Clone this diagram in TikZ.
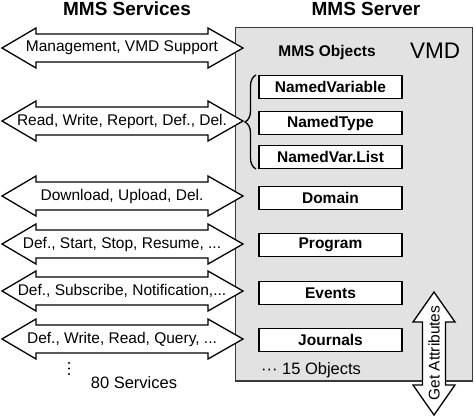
\documentclass[tikz,border=0pt]{standalone}
\usepackage{fontspec}
\setmainfont{Liberation Sans}
\usetikzlibrary{decorations.pathreplacing}
\definecolor{boxgray}{HTML}{E2E2E2}
\definecolor{edgegray}{HTML}{3A3A3A}
\tikzset{
  lbl/.style={font=\fontsize{15.5}{18}\selectfont, inner sep=0pt},
  title/.style={font=\fontsize{19}{22}\selectfont\bfseries, inner sep=0pt},
  objbox/.style={draw, line width=1.8pt, fill=white, minimum width=143pt, minimum height=23pt, inner sep=0pt, font=\fontsize{15.5}{18}\selectfont\bfseries},
  arrowshape/.style={draw, line width=1.3pt, fill=white, line join=miter},
}
\begin{document}
\begin{tikzpicture}[x=1pt,y=-1pt]
\useasboundingbox (0,0) rectangle (474,416);
% titles
\node[title] (t1) at (127,9) {MMS Services};
\node[title] (t2) at (366,9) {MMS Server};
% server box
\draw[fill=boxgray, draw=edgegray, line width=1.5pt] (235.5,27.5) rectangle (472.5,381);
\node[lbl, font=\fontsize{15.5}{18}\selectfont\bfseries] (obj) at (327,52) {MMS Objects};
\node[lbl, font=\fontsize{22.5}{26}\selectfont] (vmd) at (435,51) {VMD};
% object boxes
\node[objbox] (nv) at (330.5,87) {NamedVariable};
\node[objbox] (nt) at (330.5,123) {NamedType};
\node[objbox] (nl) at (330.5,157) {NamedVar.List};
\node[objbox] (dom) at (330.5,198) {Domain};
\node[objbox] (prg) at (330.5,245) {Program};
\node[objbox] (evt) at (330.5,293) {Events};
\node[objbox] (jrn) at (330.5,340) {Journals};
\node[lbl, font=\fontsize{16.5}{19}\selectfont] (more) at (311,370) {··· 15 Objects};
% brace
\draw[line width=1.3pt, decorate, decoration={brace, amplitude=11pt}] (256,169) -- (256,75);
% service arrows
\foreach \yy/\nm/\txt in {48/a1/{Management, VMD Support},
                          121/a2/{Read, Write, Report, Def., Del.},
                          196/a3/{Download, Upload, Del.},
                          244/a4/{Def., Start, Stop, Resume, ...},
                          291/a5/{Def., Subscribe, Notification,...},
                          339/a6/{Def., Write, Read, Query, ...}}{
  \draw[arrowshape] (2,\yy) -- (36,\yy-20) -- (36,\yy-14) -- (208,\yy-14) -- (208,\yy-20)
     -- (243,\yy) -- (208,\yy+20) -- (208,\yy+14) -- (36,\yy+14) -- (36,\yy+20) -- cycle;
  \node[lbl] (\nm) at (122,\yy) {\txt};
}
% vertical ellipsis
\foreach \dy in {363,368.5,374}{\fill (69,\dy) circle (1.1pt);}
\node[lbl, font=\fontsize{16.5}{19}\selectfont] (svc) at (134,383) {80 Services};
% get attributes arrow
\draw[arrowshape] (434,292) -- (455,322) -- (445.5,322) -- (445.5,385) -- (455,385) -- (434,415)
   -- (413,385) -- (422.5,385) -- (422.5,322) -- (413,322) -- cycle;
\node[lbl, rotate=90] (ga) at (434,353) {Get Attributes};
\end{tikzpicture}
\end{document}
